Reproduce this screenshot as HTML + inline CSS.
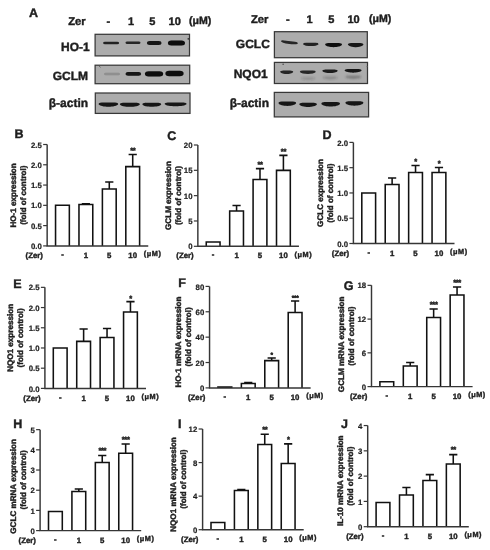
<!DOCTYPE html><html><head><meta charset="utf-8"><style>html,body{margin:0;padding:0;background:#fff;}svg{display:block;filter:blur(0.3px)}text{font-family:"Liberation Sans",Arial,sans-serif;font-weight:700;text-rendering:geometricPrecision;stroke:#1e1e1e;stroke-width:0.42px}</style></head><body>
<svg width="490" height="550" viewBox="0 0 490 550" font-family='"Liberation Sans", Arial, sans-serif' font-weight="bold" fill="#1e1e1e">
<defs><filter id="bl" x="-20%" y="-100%" width="140%" height="300%"><feGaussianBlur stdDeviation="0.75"/></filter><filter id="bl2" x="-30%" y="-150%" width="160%" height="400%"><feGaussianBlur stdDeviation="1.3"/></filter></defs>
<rect width="490" height="550" fill="#fff"/>
<text x="29.00" y="17.00" font-size="12.5" text-anchor="start" >A</text>
<text x="68.20" y="24.60" font-size="11.2" text-anchor="start" >Zer</text>
<text x="108.30" y="24.80" font-size="11" text-anchor="middle" >-</text>
<text x="131.00" y="24.80" font-size="11" text-anchor="middle" >1</text>
<text x="152.40" y="24.80" font-size="11" text-anchor="middle" >5</text>
<text x="174.70" y="24.80" font-size="11" text-anchor="middle" >10</text>
<text x="189.00" y="24.20" font-size="10.6" text-anchor="start" >(&#956;M)</text>
<text x="250.90" y="22.60" font-size="11.2" text-anchor="start" >Zer</text>
<text x="287.80" y="22.80" font-size="11" text-anchor="middle" >-</text>
<text x="309.50" y="22.80" font-size="11" text-anchor="middle" >1</text>
<text x="331.40" y="22.80" font-size="11" text-anchor="middle" >5</text>
<text x="353.50" y="22.80" font-size="11" text-anchor="middle" >10</text>
<text x="369.00" y="22.20" font-size="10.6" text-anchor="start" >(&#956;M)</text>
<text x="89.70" y="50.60" font-size="12" text-anchor="end" >HO-1</text>
<text x="88.10" y="79.50" font-size="12" text-anchor="end" >GCLM</text>
<text x="88.10" y="107.00" font-size="12" text-anchor="end" >&#946;-actin</text>
<text x="269.80" y="48.30" font-size="12" text-anchor="end" >GCLC</text>
<text x="267.70" y="77.70" font-size="12" text-anchor="end" >NQO1</text>
<text x="269.00" y="107.20" font-size="12" text-anchor="end" >&#946;-actin</text>
<rect x="95.10" y="34.30" width="94.40" height="21.60" fill="#acacac" stroke="#383838" stroke-width="1.25"/>
<rect x="95.10" y="65.20" width="94.60" height="18.50" fill="#acacac" stroke="#383838" stroke-width="1.25"/>
<rect x="95.30" y="93.00" width="94.70" height="20.40" fill="#acacac" stroke="#383838" stroke-width="1.25"/>
<g filter="url(#bl)"><rect x="103.10" y="41.70" width="16.00" height="2.60" rx="1.82" ry="1.30" fill="#222" opacity="1"/></g>
<g filter="url(#bl)"><rect x="125.50" y="41.50" width="15.00" height="2.40" rx="1.68" ry="1.20" fill="#262626" opacity="1"/></g>
<g filter="url(#bl)"><rect x="146.90" y="41.10" width="14.70" height="3.80" rx="2.66" ry="1.90" fill="#141414" opacity="1"/></g>
<g filter="url(#bl)"><rect x="167.90" y="40.50" width="17.10" height="5.00" rx="3.50" ry="2.50" fill="#0c0c0c" opacity="1"/></g>
<g filter="url(#bl)"><rect x="104.00" y="72.80" width="16.10" height="2.40" rx="1.68" ry="1.20" fill="#333" opacity="0.24"/></g>
<g filter="url(#bl)"><rect x="125.50" y="72.10" width="15.70" height="3.60" rx="2.52" ry="1.80" fill="#141414" opacity="1"/></g>
<g filter="url(#bl)"><rect x="144.90" y="71.20" width="18.30" height="5.20" rx="3.64" ry="2.60" fill="#0c0c0c" opacity="1"/></g>
<g filter="url(#bl)"><rect x="165.40" y="70.80" width="18.20" height="5.40" rx="3.78" ry="2.70" fill="#0c0c0c" opacity="1"/></g>
<g filter="url(#bl)"><path d="M98.60 104.34 Q98.60 102.50 101.60 102.50 L115.20 102.50 Q118.20 102.50 118.20 104.34 C116.40 107.65 100.40 107.65 98.60 104.34Z" fill="#141414" opacity="1"/></g>
<g filter="url(#bl)"><path d="M119.90 104.46 Q119.90 102.70 122.90 102.70 L136.80 102.70 Q139.80 102.70 139.80 104.46 C138.00 107.63 121.70 107.63 119.90 104.46Z" fill="#161616" opacity="1"/></g>
<g filter="url(#bl)"><path d="M142.40 104.48 Q142.40 102.80 145.40 102.80 L158.20 102.80 Q161.20 102.80 161.20 104.48 C159.40 107.50 144.20 107.50 142.40 104.48Z" fill="#181818" opacity="1"/></g>
<g filter="url(#bl)"><path d="M164.60 104.08 Q164.60 102.40 167.60 102.40 L183.60 102.40 Q186.60 102.40 186.60 104.08 C184.80 107.10 166.40 107.10 164.60 104.08Z" fill="#181818" opacity="1"/></g>
<rect x="274.40" y="31.70" width="92.90" height="26.00" fill="#acacac" stroke="#383838" stroke-width="1.25"/>
<rect x="274.40" y="62.40" width="93.10" height="21.10" fill="#acacac" stroke="#383838" stroke-width="1.25"/>
<rect x="274.30" y="92.40" width="94.30" height="24.50" fill="#acacac" stroke="#383838" stroke-width="1.25"/>
<g filter="url(#bl)"><path d="M280.80 42.38 Q280.80 41.10 283.80 41.10 L294.90 41.10 Q297.90 41.10 297.90 42.38 C296.10 44.68 282.60 44.68 280.80 42.38Z" fill="#262626" opacity="1" transform="rotate(7 289.35 42.70)"/></g>
<g filter="url(#bl)"><path d="M303.00 44.16 Q303.00 42.80 306.00 42.80 L315.60 42.80 Q318.60 42.80 318.60 44.16 C316.80 46.61 304.80 46.61 303.00 44.16Z" fill="#222" opacity="1"/></g>
<g filter="url(#bl)"><path d="M325.10 44.86 Q325.10 43.10 328.10 43.10 L339.00 43.10 Q342.00 43.10 342.00 44.86 C340.20 48.03 326.90 48.03 325.10 44.86Z" fill="#0e0e0e" opacity="1"/></g>
<g filter="url(#bl)"><path d="M347.90 44.86 Q347.90 43.10 350.90 43.10 L360.40 43.10 Q363.40 43.10 363.40 44.86 C361.60 48.03 349.70 48.03 347.90 44.86Z" fill="#141414" opacity="1"/></g>
<g filter="url(#bl)"><path d="M280.20 72.02 Q280.20 70.50 283.20 70.50 L290.20 70.50 Q293.20 70.50 293.20 72.02 C291.40 74.76 282.00 74.76 280.20 72.02Z" fill="#262626" opacity="1"/></g>
<g filter="url(#bl)"><path d="M299.80 71.94 Q299.80 70.50 302.80 70.50 L312.80 70.50 Q315.80 70.50 315.80 71.94 C314.00 74.53 301.60 74.53 299.80 71.94Z" fill="#262626" opacity="1"/></g>
<g filter="url(#bl)"><path d="M322.40 70.92 Q322.40 69.40 325.40 69.40 L334.60 69.40 Q337.60 69.40 337.60 70.92 C335.80 73.66 324.20 73.66 322.40 70.92Z" fill="#1a1a1a" opacity="1"/></g>
<g filter="url(#bl)"><path d="M344.60 70.50 Q344.60 68.90 347.60 68.90 L358.60 68.90 Q361.60 68.90 361.60 70.50 C359.80 73.38 346.40 73.38 344.60 70.50Z" fill="#141414" opacity="1"/></g>
<g filter="url(#bl2)"><path d="M300.90 78.58 Q300.90 77.30 303.90 77.30 L312.10 77.30 Q315.10 77.30 315.10 78.58 C313.30 80.88 302.70 80.88 300.90 78.58Z" fill="#333" opacity="0.22"/></g>
<g filter="url(#bl2)"><path d="M322.90 77.68 Q322.90 76.40 325.90 76.40 L334.60 76.40 Q337.60 76.40 337.60 77.68 C335.80 79.98 324.70 79.98 322.90 77.68Z" fill="#333" opacity="0.28"/></g>
<g filter="url(#bl2)"><path d="M345.40 77.08 Q345.40 75.80 348.40 75.80 L358.10 75.80 Q361.10 75.80 361.10 77.08 C359.30 79.38 347.20 79.38 345.40 77.08Z" fill="#333" opacity="0.45"/></g>
<g filter="url(#bl)"><path d="M278.50 103.32 Q278.50 101.40 281.50 101.40 L293.10 101.40 Q296.10 101.40 296.10 103.32 C294.30 106.78 280.30 106.78 278.50 103.32Z" fill="#141414" opacity="1"/></g>
<g filter="url(#bl)"><path d="M299.30 104.45 Q299.30 102.65 302.30 102.65 L313.90 102.65 Q316.90 102.65 316.90 104.45 C315.10 107.69 301.10 107.69 299.30 104.45Z" fill="#161616" opacity="1"/></g>
<g filter="url(#bl)"><path d="M321.40 103.94 Q321.40 102.10 324.40 102.10 L337.00 102.10 Q340.00 102.10 340.00 103.94 C338.20 107.25 323.20 107.25 321.40 103.94Z" fill="#161616" opacity="1"/></g>
<g filter="url(#bl)"><path d="M345.40 103.12 Q345.40 101.20 348.40 101.20 L360.40 101.20 Q363.40 101.20 363.40 103.12 C361.60 106.58 347.20 106.58 345.40 103.12Z" fill="#141414" opacity="1"/></g>
<circle cx="188.3" cy="38.8" r="0.85" fill="#333"/>
<circle cx="283.1" cy="64.2" r="0.75" fill="#444"/>
<circle cx="367.2" cy="66.6" r="0.6" fill="#555"/>
<path d="M99.0 66.0 L100.6 67.4" stroke="#555" stroke-width="0.8"/>
<text x="14.60" y="138.00" font-size="12.5" text-anchor="start" >B</text>
<path d="M43.15 245.90 H47.15" stroke="#363636" stroke-width="1.2"/>
<text x="41.85" y="249.00" font-size="7.8" text-anchor="end" style="stroke-width:0.2px">0.0</text>
<path d="M43.15 225.62 H47.15" stroke="#363636" stroke-width="1.2"/>
<text x="41.85" y="228.72" font-size="7.8" text-anchor="end" style="stroke-width:0.2px">0.5</text>
<path d="M43.15 205.34 H47.15" stroke="#363636" stroke-width="1.2"/>
<text x="41.85" y="208.44" font-size="7.8" text-anchor="end" style="stroke-width:0.2px">1.0</text>
<path d="M43.15 185.06 H47.15" stroke="#363636" stroke-width="1.2"/>
<text x="41.85" y="188.16" font-size="7.8" text-anchor="end" style="stroke-width:0.2px">1.5</text>
<path d="M43.15 164.78 H47.15" stroke="#363636" stroke-width="1.2"/>
<text x="41.85" y="167.88" font-size="7.8" text-anchor="end" style="stroke-width:0.2px">2.0</text>
<path d="M43.15 144.50 H47.15" stroke="#363636" stroke-width="1.2"/>
<text x="41.85" y="147.60" font-size="7.8" text-anchor="end" style="stroke-width:0.2px">2.5</text>
<path d="M55.55 245.90 V205.34 H69.35 V245.90" fill="#fff" stroke="#111" stroke-width="1.55"/>
<path d="M85.87 204.53 V203.72 M81.77 203.72 H89.97" stroke="#111" stroke-width="1.55"/>
<path d="M78.97 245.90 V204.53 H92.77 V245.90" fill="#fff" stroke="#111" stroke-width="1.55"/>
<path d="M109.29 188.99 V182.02 M105.19 182.02 H113.39" stroke="#111" stroke-width="1.55"/>
<path d="M102.39 245.90 V188.99 H116.19 V245.90" fill="#fff" stroke="#111" stroke-width="1.55"/>
<path d="M132.71 166.61 V154.52 M128.61 154.52 H136.81" stroke="#111" stroke-width="1.55"/>
<path d="M125.81 245.90 V166.61 H139.61 V245.90" fill="#fff" stroke="#111" stroke-width="1.55"/>
<text x="132.71" y="153.12" font-size="7.6" text-anchor="middle" letter-spacing="-0.4">**</text>
<path d="M47.15 144.50 V245.90 H148.25" fill="none" stroke="#363636" stroke-width="1.45"/>
<text x="42.95" y="258.00" font-size="7.8" text-anchor="end" >(Zer)</text>
<text x="62.45" y="257.00" font-size="7.8" text-anchor="middle" >-</text>
<text x="85.87" y="258.00" font-size="7.8" text-anchor="middle" >1</text>
<text x="109.29" y="258.00" font-size="7.8" text-anchor="middle" >5</text>
<text x="132.71" y="258.00" font-size="7.8" text-anchor="middle" >10</text>
<text x="143.85" y="256.30" font-size="7.3" text-anchor="start" letter-spacing="0.55">(&#956;M)</text>
<text transform="translate(16.10,195.45) rotate(-90)" font-size="8.1" text-anchor="middle">HO-1 expression</text>
<text transform="translate(26.20,195.25) rotate(-90)" font-size="8.0" text-anchor="middle">(fold of control)</text>
<text x="167.20" y="139.60" font-size="12.5" text-anchor="start" >C</text>
<path d="M193.85 246.30 H197.85" stroke="#363636" stroke-width="1.2"/>
<text x="192.55" y="249.40" font-size="7.8" text-anchor="end" style="stroke-width:0.2px">0</text>
<path d="M193.85 220.98 H197.85" stroke="#363636" stroke-width="1.2"/>
<text x="192.55" y="224.08" font-size="7.8" text-anchor="end" style="stroke-width:0.2px">5</text>
<path d="M193.85 195.65 H197.85" stroke="#363636" stroke-width="1.2"/>
<text x="192.55" y="198.75" font-size="7.8" text-anchor="end" style="stroke-width:0.2px">10</text>
<path d="M193.85 170.32 H197.85" stroke="#363636" stroke-width="1.2"/>
<text x="192.55" y="173.42" font-size="7.8" text-anchor="end" style="stroke-width:0.2px">15</text>
<path d="M193.85 145.00 H197.85" stroke="#363636" stroke-width="1.2"/>
<text x="192.55" y="148.10" font-size="7.8" text-anchor="end" style="stroke-width:0.2px">20</text>
<path d="M206.25 246.30 V241.99 H220.05 V246.30" fill="#fff" stroke="#111" stroke-width="1.55"/>
<path d="M236.57 211.00 V205.43 M232.47 205.43 H240.67" stroke="#111" stroke-width="1.55"/>
<path d="M229.67 246.30 V211.00 H243.47 V246.30" fill="#fff" stroke="#111" stroke-width="1.55"/>
<path d="M259.99 179.44 V168.60 M255.89 168.60 H264.09" stroke="#111" stroke-width="1.55"/>
<path d="M253.09 246.30 V179.44 H266.89 V246.30" fill="#fff" stroke="#111" stroke-width="1.55"/>
<text x="259.99" y="166.75" font-size="7.6" text-anchor="middle" letter-spacing="-0.4">**</text>
<path d="M283.41 170.38 V155.38 M279.31 155.38 H287.51" stroke="#111" stroke-width="1.55"/>
<path d="M276.51 246.30 V170.38 H290.31 V246.30" fill="#fff" stroke="#111" stroke-width="1.55"/>
<text x="283.41" y="153.53" font-size="7.6" text-anchor="middle" letter-spacing="-0.4">**</text>
<path d="M197.85 145.00 V246.30 H298.95" fill="none" stroke="#363636" stroke-width="1.45"/>
<text x="193.65" y="258.40" font-size="7.8" text-anchor="end" >(Zer)</text>
<text x="213.15" y="257.40" font-size="7.8" text-anchor="middle" >-</text>
<text x="236.57" y="258.40" font-size="7.8" text-anchor="middle" >1</text>
<text x="259.99" y="258.40" font-size="7.8" text-anchor="middle" >5</text>
<text x="283.41" y="258.40" font-size="7.8" text-anchor="middle" >10</text>
<text x="294.55" y="256.70" font-size="7.3" text-anchor="start" letter-spacing="0.55">(&#956;M)</text>
<text transform="translate(171.20,195.55) rotate(-90)" font-size="8.1" text-anchor="middle">GCLM expression</text>
<text transform="translate(181.30,195.55) rotate(-90)" font-size="8.0" text-anchor="middle">(fold of control)</text>
<text x="322.60" y="139.00" font-size="12.5" text-anchor="start" >D</text>
<path d="M349.40 243.50 H353.40" stroke="#363636" stroke-width="1.2"/>
<text x="348.10" y="246.60" font-size="7.8" text-anchor="end" style="stroke-width:0.2px">0.0</text>
<path d="M349.40 218.22 H353.40" stroke="#363636" stroke-width="1.2"/>
<text x="348.10" y="221.32" font-size="7.8" text-anchor="end" style="stroke-width:0.2px">0.5</text>
<path d="M349.40 192.95 H353.40" stroke="#363636" stroke-width="1.2"/>
<text x="348.10" y="196.05" font-size="7.8" text-anchor="end" style="stroke-width:0.2px">1.0</text>
<path d="M349.40 167.68 H353.40" stroke="#363636" stroke-width="1.2"/>
<text x="348.10" y="170.78" font-size="7.8" text-anchor="end" style="stroke-width:0.2px">1.5</text>
<path d="M349.40 142.40 H353.40" stroke="#363636" stroke-width="1.2"/>
<text x="348.10" y="145.50" font-size="7.8" text-anchor="end" style="stroke-width:0.2px">2.0</text>
<path d="M361.80 243.50 V192.95 H375.60 V243.50" fill="#fff" stroke="#111" stroke-width="1.55"/>
<path d="M392.12 184.41 V177.99 M388.02 177.99 H396.22" stroke="#111" stroke-width="1.55"/>
<path d="M385.22 243.50 V184.41 H399.02 V243.50" fill="#fff" stroke="#111" stroke-width="1.55"/>
<path d="M415.54 172.58 V165.40 M411.44 165.40 H419.64" stroke="#111" stroke-width="1.55"/>
<path d="M408.64 243.50 V172.58 H422.44 V243.50" fill="#fff" stroke="#111" stroke-width="1.55"/>
<text x="415.54" y="163.50" font-size="7.6" text-anchor="middle" letter-spacing="-0.4">*</text>
<path d="M438.96 172.58 V167.42 M434.86 167.42 H443.06" stroke="#111" stroke-width="1.55"/>
<path d="M432.06 243.50 V172.58 H445.86 V243.50" fill="#fff" stroke="#111" stroke-width="1.55"/>
<text x="438.96" y="165.52" font-size="7.6" text-anchor="middle" letter-spacing="-0.4">*</text>
<path d="M353.40 142.40 V243.50 H454.50" fill="none" stroke="#363636" stroke-width="1.45"/>
<text x="349.20" y="255.60" font-size="7.8" text-anchor="end" >(Zer)</text>
<text x="368.70" y="254.60" font-size="7.8" text-anchor="middle" >-</text>
<text x="392.12" y="255.60" font-size="7.8" text-anchor="middle" >1</text>
<text x="415.54" y="255.60" font-size="7.8" text-anchor="middle" >5</text>
<text x="438.96" y="255.60" font-size="7.8" text-anchor="middle" >10</text>
<text x="450.10" y="253.90" font-size="7.3" text-anchor="start" letter-spacing="0.55">(&#956;M)</text>
<text transform="translate(323.20,192.95) rotate(-90)" font-size="8.1" text-anchor="middle">GCLC expression</text>
<text transform="translate(333.30,193.10) rotate(-90)" font-size="8.0" text-anchor="middle">(fold of control)</text>
<text x="13.20" y="287.60" font-size="12.5" text-anchor="start" >E</text>
<path d="M40.90 388.40 H44.90" stroke="#363636" stroke-width="1.2"/>
<text x="39.60" y="391.50" font-size="7.8" text-anchor="end" style="stroke-width:0.2px">0.0</text>
<path d="M40.90 368.19 H44.90" stroke="#363636" stroke-width="1.2"/>
<text x="39.60" y="371.29" font-size="7.8" text-anchor="end" style="stroke-width:0.2px">0.5</text>
<path d="M40.90 347.98 H44.90" stroke="#363636" stroke-width="1.2"/>
<text x="39.60" y="351.08" font-size="7.8" text-anchor="end" style="stroke-width:0.2px">1.0</text>
<path d="M40.90 327.77 H44.90" stroke="#363636" stroke-width="1.2"/>
<text x="39.60" y="330.87" font-size="7.8" text-anchor="end" style="stroke-width:0.2px">1.5</text>
<path d="M40.90 307.56 H44.90" stroke="#363636" stroke-width="1.2"/>
<text x="39.60" y="310.66" font-size="7.8" text-anchor="end" style="stroke-width:0.2px">2.0</text>
<path d="M40.90 287.35 H44.90" stroke="#363636" stroke-width="1.2"/>
<text x="39.60" y="290.45" font-size="7.8" text-anchor="end" style="stroke-width:0.2px">2.5</text>
<path d="M53.30 388.40 V347.98 H67.10 V388.40" fill="#fff" stroke="#111" stroke-width="1.55"/>
<path d="M83.62 341.39 V328.98 M79.52 328.98 H87.72" stroke="#111" stroke-width="1.55"/>
<path d="M76.72 388.40 V341.39 H90.52 V388.40" fill="#fff" stroke="#111" stroke-width="1.55"/>
<path d="M107.04 337.59 V328.58 M102.94 328.58 H111.14" stroke="#111" stroke-width="1.55"/>
<path d="M100.14 388.40 V337.59 H113.94 V388.40" fill="#fff" stroke="#111" stroke-width="1.55"/>
<path d="M130.46 312.01 V301.62 M126.36 301.62 H134.56" stroke="#111" stroke-width="1.55"/>
<path d="M123.56 388.40 V312.01 H137.36 V388.40" fill="#fff" stroke="#111" stroke-width="1.55"/>
<text x="130.46" y="301.02" font-size="7.6" text-anchor="middle" letter-spacing="-0.4">*</text>
<path d="M44.90 287.35 V388.40 H146.00" fill="none" stroke="#363636" stroke-width="1.45"/>
<text x="40.70" y="400.50" font-size="7.8" text-anchor="end" >(Zer)</text>
<text x="60.20" y="399.50" font-size="7.8" text-anchor="middle" >-</text>
<text x="83.62" y="400.50" font-size="7.8" text-anchor="middle" >1</text>
<text x="107.04" y="400.50" font-size="7.8" text-anchor="middle" >5</text>
<text x="130.46" y="400.50" font-size="7.8" text-anchor="middle" >10</text>
<text x="141.60" y="398.80" font-size="7.3" text-anchor="start" letter-spacing="0.55">(&#956;M)</text>
<text transform="translate(12.90,337.85) rotate(-90)" font-size="8.1" text-anchor="middle">NQO1 expression</text>
<text transform="translate(23.00,337.85) rotate(-90)" font-size="8.0" text-anchor="middle">(fold of control)</text>
<text x="178.20" y="287.20" font-size="12.5" text-anchor="start" >F</text>
<path d="M205.55 387.90 H209.55" stroke="#363636" stroke-width="1.2"/>
<text x="204.25" y="391.00" font-size="7.8" text-anchor="end" style="stroke-width:0.2px">0</text>
<path d="M205.55 362.52 H209.55" stroke="#363636" stroke-width="1.2"/>
<text x="204.25" y="365.62" font-size="7.8" text-anchor="end" style="stroke-width:0.2px">20</text>
<path d="M205.55 337.15 H209.55" stroke="#363636" stroke-width="1.2"/>
<text x="204.25" y="340.25" font-size="7.8" text-anchor="end" style="stroke-width:0.2px">40</text>
<path d="M205.55 311.77 H209.55" stroke="#363636" stroke-width="1.2"/>
<text x="204.25" y="314.88" font-size="7.8" text-anchor="end" style="stroke-width:0.2px">60</text>
<path d="M205.55 286.40 H209.55" stroke="#363636" stroke-width="1.2"/>
<text x="204.25" y="289.50" font-size="7.8" text-anchor="end" style="stroke-width:0.2px">80</text>
<path d="M217.95 387.90 V387.14 H231.75 V387.90" fill="#fff" stroke="#111" stroke-width="1.55"/>
<path d="M248.27 383.40 V382.41 M244.17 382.41 H252.37" stroke="#111" stroke-width="1.55"/>
<path d="M241.37 387.90 V383.40 H255.17 V387.90" fill="#fff" stroke="#111" stroke-width="1.55"/>
<path d="M271.69 360.62 V358.01 M267.59 358.01 H275.79" stroke="#111" stroke-width="1.55"/>
<path d="M264.79 387.90 V360.62 H278.59 V387.90" fill="#fff" stroke="#111" stroke-width="1.55"/>
<text x="271.69" y="357.01" font-size="6.6" text-anchor="middle" letter-spacing="-0.4">*</text>
<path d="M295.11 312.41 V300.99 M291.01 300.99 H299.21" stroke="#111" stroke-width="1.55"/>
<path d="M288.21 387.90 V312.41 H302.01 V387.90" fill="#fff" stroke="#111" stroke-width="1.55"/>
<text x="295.11" y="300.00" font-size="6.6" text-anchor="middle" letter-spacing="-0.4">***</text>
<path d="M209.55 286.40 V387.90 H310.65" fill="none" stroke="#363636" stroke-width="1.45"/>
<text x="205.35" y="400.00" font-size="7.8" text-anchor="end" >(Zer)</text>
<text x="224.85" y="399.00" font-size="7.8" text-anchor="middle" >-</text>
<text x="248.27" y="400.00" font-size="7.8" text-anchor="middle" >1</text>
<text x="271.69" y="400.00" font-size="7.8" text-anchor="middle" >5</text>
<text x="295.11" y="400.00" font-size="7.8" text-anchor="middle" >10</text>
<text x="306.25" y="398.30" font-size="7.3" text-anchor="start" letter-spacing="0.55">(&#956;M)</text>
<text transform="translate(181.30,342.10) rotate(-90)" font-size="8.1" text-anchor="middle">HO-1 mRNA expression</text>
<text transform="translate(191.40,336.95) rotate(-90)" font-size="8.0" text-anchor="middle">(fold of control)</text>
<text x="343.80" y="290.00" font-size="12.5" text-anchor="start" >G</text>
<path d="M367.50 386.60 H371.50" stroke="#363636" stroke-width="1.2"/>
<text x="366.20" y="389.70" font-size="7.8" text-anchor="end" style="stroke-width:0.2px">0</text>
<path d="M367.50 352.85 H371.50" stroke="#363636" stroke-width="1.2"/>
<text x="366.20" y="355.95" font-size="7.8" text-anchor="end" style="stroke-width:0.2px">6</text>
<path d="M367.50 319.10 H371.50" stroke="#363636" stroke-width="1.2"/>
<text x="366.20" y="322.20" font-size="7.8" text-anchor="end" style="stroke-width:0.2px">12</text>
<path d="M367.50 285.35 H371.50" stroke="#363636" stroke-width="1.2"/>
<text x="366.20" y="288.45" font-size="7.8" text-anchor="end" style="stroke-width:0.2px">18</text>
<path d="M379.90 386.60 V381.82 H393.70 V386.60" fill="#fff" stroke="#111" stroke-width="1.55"/>
<path d="M410.22 366.01 V362.41 M406.12 362.41 H414.32" stroke="#111" stroke-width="1.55"/>
<path d="M403.32 386.60 V366.01 H417.12 V386.60" fill="#fff" stroke="#111" stroke-width="1.55"/>
<path d="M433.64 317.41 V308.98 M429.54 308.98 H437.74" stroke="#111" stroke-width="1.55"/>
<path d="M426.74 386.60 V317.41 H440.54 V386.60" fill="#fff" stroke="#111" stroke-width="1.55"/>
<text x="433.64" y="307.18" font-size="7.6" text-anchor="middle" letter-spacing="-0.4">***</text>
<path d="M457.06 295.03 V287.04 M452.96 287.04 H461.16" stroke="#111" stroke-width="1.55"/>
<path d="M450.16 386.60 V295.03 H463.96 V386.60" fill="#fff" stroke="#111" stroke-width="1.55"/>
<text x="457.06" y="285.24" font-size="7.6" text-anchor="middle" letter-spacing="-0.4">***</text>
<path d="M371.50 285.35 V386.60 H472.60" fill="none" stroke="#363636" stroke-width="1.45"/>
<text x="367.30" y="398.70" font-size="7.8" text-anchor="end" >(Zer)</text>
<text x="386.80" y="397.70" font-size="7.8" text-anchor="middle" >-</text>
<text x="410.22" y="398.70" font-size="7.8" text-anchor="middle" >1</text>
<text x="433.64" y="398.70" font-size="7.8" text-anchor="middle" >5</text>
<text x="457.06" y="398.70" font-size="7.8" text-anchor="middle" >10</text>
<text x="468.20" y="397.00" font-size="7.3" text-anchor="start" letter-spacing="0.55">(&#956;M)</text>
<text transform="translate(344.10,344.40) rotate(-90)" font-size="8.1" text-anchor="middle">GCLM mRNA expression</text>
<text transform="translate(354.10,336.10) rotate(-90)" font-size="8.0" text-anchor="middle">(fold of control)</text>
<text x="13.20" y="428.00" font-size="12.5" text-anchor="start" >H</text>
<path d="M36.10 530.60 H40.10" stroke="#363636" stroke-width="1.2"/>
<text x="34.80" y="533.70" font-size="7.8" text-anchor="end" style="stroke-width:0.2px">0</text>
<path d="M36.10 510.41 H40.10" stroke="#363636" stroke-width="1.2"/>
<text x="34.80" y="513.51" font-size="7.8" text-anchor="end" style="stroke-width:0.2px">1</text>
<path d="M36.10 490.22 H40.10" stroke="#363636" stroke-width="1.2"/>
<text x="34.80" y="493.32" font-size="7.8" text-anchor="end" style="stroke-width:0.2px">2</text>
<path d="M36.10 470.03 H40.10" stroke="#363636" stroke-width="1.2"/>
<text x="34.80" y="473.13" font-size="7.8" text-anchor="end" style="stroke-width:0.2px">3</text>
<path d="M36.10 449.84 H40.10" stroke="#363636" stroke-width="1.2"/>
<text x="34.80" y="452.94" font-size="7.8" text-anchor="end" style="stroke-width:0.2px">4</text>
<path d="M36.10 429.65 H40.10" stroke="#363636" stroke-width="1.2"/>
<text x="34.80" y="432.75" font-size="7.8" text-anchor="end" style="stroke-width:0.2px">5</text>
<path d="M48.50 530.60 V511.42 H62.30 V530.60" fill="#fff" stroke="#111" stroke-width="1.55"/>
<path d="M78.82 491.43 V489.01 M74.72 489.01 H82.92" stroke="#111" stroke-width="1.55"/>
<path d="M71.92 530.60 V491.43 H85.72 V530.60" fill="#fff" stroke="#111" stroke-width="1.55"/>
<path d="M102.24 462.56 V455.49 M98.14 455.49 H106.34" stroke="#111" stroke-width="1.55"/>
<path d="M95.34 530.60 V462.56 H109.14 V530.60" fill="#fff" stroke="#111" stroke-width="1.55"/>
<text x="102.24" y="453.04" font-size="7.6" text-anchor="middle" letter-spacing="-0.4">***</text>
<path d="M125.66 453.27 V443.98 M121.56 443.98 H129.76" stroke="#111" stroke-width="1.55"/>
<path d="M118.76 530.60 V453.27 H132.56 V530.60" fill="#fff" stroke="#111" stroke-width="1.55"/>
<text x="125.66" y="441.53" font-size="7.6" text-anchor="middle" letter-spacing="-0.4">***</text>
<path d="M40.10 429.65 V530.60 H141.20" fill="none" stroke="#363636" stroke-width="1.45"/>
<text x="35.90" y="542.70" font-size="7.8" text-anchor="end" >(Zer)</text>
<text x="55.40" y="541.70" font-size="7.8" text-anchor="middle" >-</text>
<text x="78.82" y="542.70" font-size="7.8" text-anchor="middle" >1</text>
<text x="102.24" y="542.70" font-size="7.8" text-anchor="middle" >5</text>
<text x="125.66" y="542.70" font-size="7.8" text-anchor="middle" >10</text>
<text x="136.80" y="541.00" font-size="7.3" text-anchor="start" letter-spacing="0.55">(&#956;M)</text>
<text transform="translate(16.20,486.40) rotate(-90)" font-size="8.1" text-anchor="middle">GCLC mRNA expression</text>
<text transform="translate(26.30,479.85) rotate(-90)" font-size="8.0" text-anchor="middle">(fold of control)</text>
<text x="178.00" y="428.00" font-size="12.5" text-anchor="start" >I</text>
<path d="M198.60 529.70 H202.60" stroke="#363636" stroke-width="1.2"/>
<text x="197.30" y="532.80" font-size="7.8" text-anchor="end" style="stroke-width:0.2px">0</text>
<path d="M198.60 496.13 H202.60" stroke="#363636" stroke-width="1.2"/>
<text x="197.30" y="499.23" font-size="7.8" text-anchor="end" style="stroke-width:0.2px">4</text>
<path d="M198.60 462.57 H202.60" stroke="#363636" stroke-width="1.2"/>
<text x="197.30" y="465.67" font-size="7.8" text-anchor="end" style="stroke-width:0.2px">8</text>
<path d="M198.60 429.00 H202.60" stroke="#363636" stroke-width="1.2"/>
<text x="197.30" y="432.10" font-size="7.8" text-anchor="end" style="stroke-width:0.2px">12</text>
<path d="M211.00 529.70 V522.40 H224.80 V529.70" fill="#fff" stroke="#111" stroke-width="1.55"/>
<path d="M241.32 490.43 V489.42 M237.22 489.42 H245.42" stroke="#111" stroke-width="1.55"/>
<path d="M234.42 529.70 V490.43 H248.22 V529.70" fill="#fff" stroke="#111" stroke-width="1.55"/>
<path d="M264.74 444.52 V434.20 M260.64 434.20 H268.84" stroke="#111" stroke-width="1.55"/>
<path d="M257.84 529.70 V444.52 H271.64 V529.70" fill="#fff" stroke="#111" stroke-width="1.55"/>
<text x="264.74" y="432.20" font-size="7.6" text-anchor="middle" letter-spacing="-0.4">**</text>
<path d="M288.16 463.57 V443.85 M284.06 443.85 H292.26" stroke="#111" stroke-width="1.55"/>
<path d="M281.26 529.70 V463.57 H295.06 V529.70" fill="#fff" stroke="#111" stroke-width="1.55"/>
<text x="288.16" y="441.85" font-size="7.6" text-anchor="middle" letter-spacing="-0.4">*</text>
<path d="M202.60 429.00 V529.70 H303.70" fill="none" stroke="#363636" stroke-width="1.45"/>
<text x="198.40" y="541.80" font-size="7.8" text-anchor="end" >(Zer)</text>
<text x="217.90" y="540.80" font-size="7.8" text-anchor="middle" >-</text>
<text x="241.32" y="541.80" font-size="7.8" text-anchor="middle" >1</text>
<text x="264.74" y="541.80" font-size="7.8" text-anchor="middle" >5</text>
<text x="288.16" y="541.80" font-size="7.8" text-anchor="middle" >10</text>
<text x="299.30" y="540.10" font-size="7.3" text-anchor="start" letter-spacing="0.55">(&#956;M)</text>
<text transform="translate(175.50,484.50) rotate(-90)" font-size="8.1" text-anchor="middle">NQO1 mRNA expression</text>
<text transform="translate(185.50,479.15) rotate(-90)" font-size="8.0" text-anchor="middle">(fold of control)</text>
<text x="341.00" y="427.60" font-size="12.5" text-anchor="start" >J</text>
<path d="M363.70 526.70 H367.70" stroke="#363636" stroke-width="1.2"/>
<text x="362.40" y="529.80" font-size="7.8" text-anchor="end" style="stroke-width:0.2px">0</text>
<path d="M363.70 501.41 H367.70" stroke="#363636" stroke-width="1.2"/>
<text x="362.40" y="504.51" font-size="7.8" text-anchor="end" style="stroke-width:0.2px">1</text>
<path d="M363.70 476.12 H367.70" stroke="#363636" stroke-width="1.2"/>
<text x="362.40" y="479.23" font-size="7.8" text-anchor="end" style="stroke-width:0.2px">2</text>
<path d="M363.70 450.84 H367.70" stroke="#363636" stroke-width="1.2"/>
<text x="362.40" y="453.94" font-size="7.8" text-anchor="end" style="stroke-width:0.2px">3</text>
<path d="M363.70 425.55 H367.70" stroke="#363636" stroke-width="1.2"/>
<text x="362.40" y="428.65" font-size="7.8" text-anchor="end" style="stroke-width:0.2px">4</text>
<path d="M376.10 526.70 V502.42 H389.90 V526.70" fill="#fff" stroke="#111" stroke-width="1.55"/>
<path d="M406.42 495.09 V487.50 M402.32 487.50 H410.52" stroke="#111" stroke-width="1.55"/>
<path d="M399.52 526.70 V495.09 H413.32 V526.70" fill="#fff" stroke="#111" stroke-width="1.55"/>
<path d="M429.84 480.42 V474.61 M425.74 474.61 H433.94" stroke="#111" stroke-width="1.55"/>
<path d="M422.94 526.70 V480.42 H436.74 V526.70" fill="#fff" stroke="#111" stroke-width="1.55"/>
<path d="M453.26 463.99 V454.63 M449.16 454.63 H457.36" stroke="#111" stroke-width="1.55"/>
<path d="M446.36 526.70 V463.99 H460.16 V526.70" fill="#fff" stroke="#111" stroke-width="1.55"/>
<text x="453.26" y="452.03" font-size="7.6" text-anchor="middle" letter-spacing="-0.4">**</text>
<path d="M367.70 425.55 V526.70 H468.80" fill="none" stroke="#363636" stroke-width="1.45"/>
<text x="363.50" y="538.80" font-size="7.8" text-anchor="end" >(Zer)</text>
<text x="383.00" y="537.80" font-size="7.8" text-anchor="middle" >-</text>
<text x="406.42" y="538.80" font-size="7.8" text-anchor="middle" >1</text>
<text x="429.84" y="538.80" font-size="7.8" text-anchor="middle" >5</text>
<text x="453.26" y="538.80" font-size="7.8" text-anchor="middle" >10</text>
<text x="464.40" y="537.10" font-size="7.3" text-anchor="start" letter-spacing="0.55">(&#956;M)</text>
<text transform="translate(342.90,480.75) rotate(-90)" font-size="8.1" text-anchor="middle">IL-10 mRNA expression</text>
<text transform="translate(352.90,476.15) rotate(-90)" font-size="8.0" text-anchor="middle">(fold of control)</text>
</svg></body></html>
